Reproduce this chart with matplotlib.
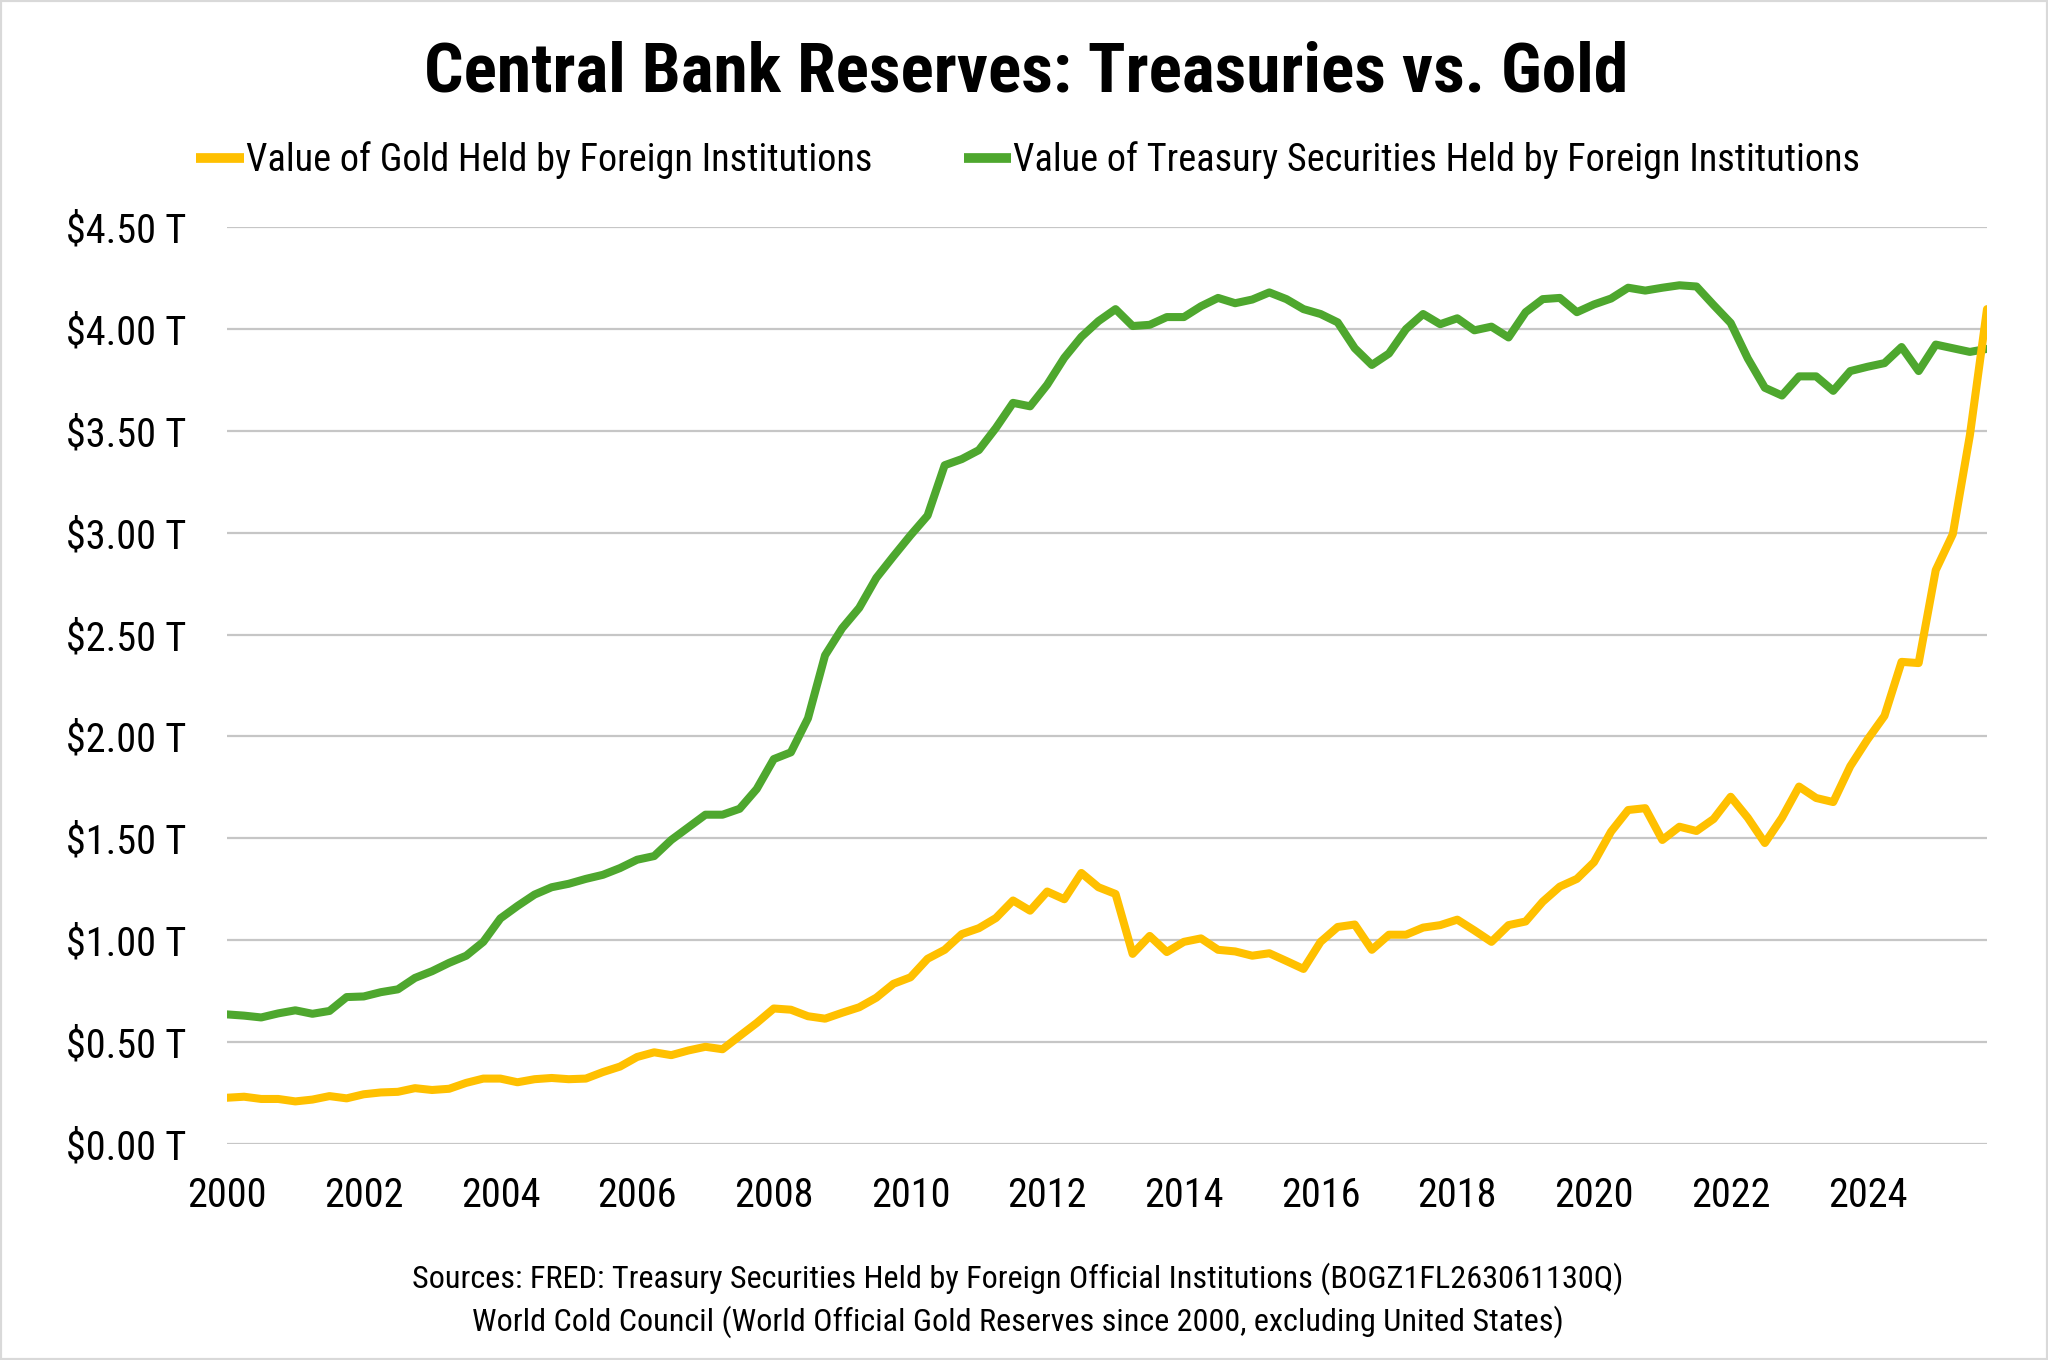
import numpy as np
import matplotlib
matplotlib.use('Agg')
import matplotlib.pyplot as plt
from matplotlib import font_manager
from matplotlib.lines import Line2D
from matplotlib.patches import Rectangle

# quarterly points, 2000 Q1 .. 2025 Q4 (trillions of USD)
treasury = [0.636, 0.630, 0.621, 0.641, 0.656, 0.639, 0.653, 0.721, 0.724, 0.745,
            0.759, 0.815, 0.848, 0.889, 0.924, 0.992, 1.107, 1.168, 1.224, 1.260,
            1.277, 1.301, 1.321, 1.354, 1.395, 1.413, 1.492, 1.554, 1.616, 1.616,
            1.645, 1.742, 1.889, 1.922, 2.089, 2.398, 2.531, 2.631, 2.778, 2.884,
            2.987, 3.084, 3.331, 3.361, 3.405, 3.514, 3.637, 3.620, 3.726, 3.858,
            3.961, 4.038, 4.097, 4.014, 4.020, 4.058, 4.058, 4.111, 4.152, 4.126,
            4.144, 4.179, 4.146, 4.097, 4.073, 4.032, 3.905, 3.823, 3.879, 3.999,
            4.073, 4.023, 4.052, 3.993, 4.011, 3.958, 4.082, 4.146, 4.152, 4.082,
            4.120, 4.149, 4.202, 4.188, 4.202, 4.214, 4.208, 4.117, 4.029, 3.855,
            3.711, 3.673, 3.767, 3.767, 3.696, 3.793, 3.814, 3.832, 3.911, 3.793,
            3.923, 3.905, 3.887, 3.902]

gold = [0.227, 0.232, 0.221, 0.221, 0.209, 0.218, 0.235, 0.224, 0.244, 0.253,
        0.256, 0.274, 0.265, 0.271, 0.300, 0.321, 0.321, 0.303, 0.318, 0.324,
        0.318, 0.321, 0.353, 0.380, 0.427, 0.450, 0.436, 0.459, 0.477, 0.465,
        0.530, 0.594, 0.665, 0.659, 0.627, 0.615, 0.644, 0.671, 0.718, 0.786,
        0.818, 0.909, 0.953, 1.030, 1.059, 1.109, 1.195, 1.145, 1.239, 1.201,
        1.330, 1.260, 1.227, 0.933, 1.021, 0.942, 0.992, 1.009, 0.953, 0.945,
        0.924, 0.936, 0.898, 0.859, 0.992, 1.065, 1.077, 0.953, 1.027, 1.027,
        1.062, 1.074, 1.101, 1.048, 0.992, 1.074, 1.092, 1.189, 1.263, 1.301,
        1.383, 1.533, 1.639, 1.648, 1.492, 1.557, 1.536, 1.595, 1.704, 1.601,
        1.477, 1.601, 1.754, 1.698, 1.678, 1.854, 1.984, 2.101, 2.366, 2.360,
        2.816, 2.993, 3.479, 4.097]

quarters = 2000 + 0.25 * np.arange(len(gold))
year_ticks = list(range(2000, 2025, 2))
y_ticks = [0.0, 0.5, 1.0, 1.5, 2.0, 2.5, 3.0, 3.5, 4.0, 4.5]

title = "Central Bank Reserves: Treasuries vs. Gold"
label_gold = "Value of Gold Held by Foreign Institutions"
label_tsy = "Value of Treasury Securities Held by Foreign Institutions"
source_text = ("Sources: FRED: Treasury Securities Held by Foreign Official Institutions (BOGZ1FL263061130Q)\n"
               "World Cold Council (World Official Gold Reserves since 2000, excluding United States)")

c_gold = '#FFC000'
c_green = '#4EA72E'

# narrow font if available
installed = {f.name for f in font_manager.fontManager.ttflist}
font = 'DejaVu Sans'
for cand in ['Liberation Sans Narrow', 'Roboto Condensed', 'Liberation Sans']:
    if cand in installed:
        font = cand
        break
plt.rcParams['font.family'] = [font, 'DejaVu Sans']

fig = plt.figure(figsize=(20.48, 13.6), dpi=100)
ax = fig.add_axes([227 / 2048, 1 - 1144 / 1360, (1987 - 227) / 2048, (1144 - 227) / 1360])

ax.plot(quarters, treasury, color=c_green, lw=5.8,
        solid_joinstyle='round', solid_capstyle='round', label=label_tsy, zorder=3)
ax.plot(quarters, gold, color=c_gold, lw=5.8,
        solid_joinstyle='round', solid_capstyle='round', label=label_gold, zorder=4)

ax.set_xlim(2000, quarters[-1])
ax.set_ylim(0, 4.5)
ax.set_xticks(year_ticks)
ax.set_xticklabels([str(y) for y in year_ticks])
ax.set_yticks(y_ticks)
ax.set_yticklabels([f"${v:.2f} T" for v in y_ticks])
ax.tick_params(axis='x', length=0, pad=23, labelsize=29)
ax.tick_params(axis='y', length=0, pad=29, labelsize=29)
ax.grid(True, axis='y', color='#c6c6c6', lw=1.6)
ax.set_axisbelow(True)
for s in ax.spines.values():
    s.set_visible(False)

fig.text(0.501, 1 - 73 / 1360, title, ha='center', va='center',
         fontsize=50, fontweight='bold')

handles = [Line2D([], [], color=c_gold, lw=7, solid_capstyle='butt'),
           Line2D([], [], color=c_green, lw=7, solid_capstyle='butt')]
fig.legend(handles, [label_gold, label_tsy], loc='center', ncol=2,
           bbox_to_anchor=(0.502, 1 - 160 / 1360), frameon=False, fontsize=27.5,
           handlelength=1.25, handletextpad=0.05, columnspacing=2.4)

fig.text(0.497, 1 - 1300 / 1360, source_text, ha='center', va='center',
         fontsize=23.2, linespacing=1.4)

# thin border around the picture
fig.patches.append(Rectangle((0, 0), 1, 1, transform=fig.transFigure,
                             fill=False, ec='#d9d9d9', lw=3))

fig.savefig('out.png', dpi=100, facecolor='white')
